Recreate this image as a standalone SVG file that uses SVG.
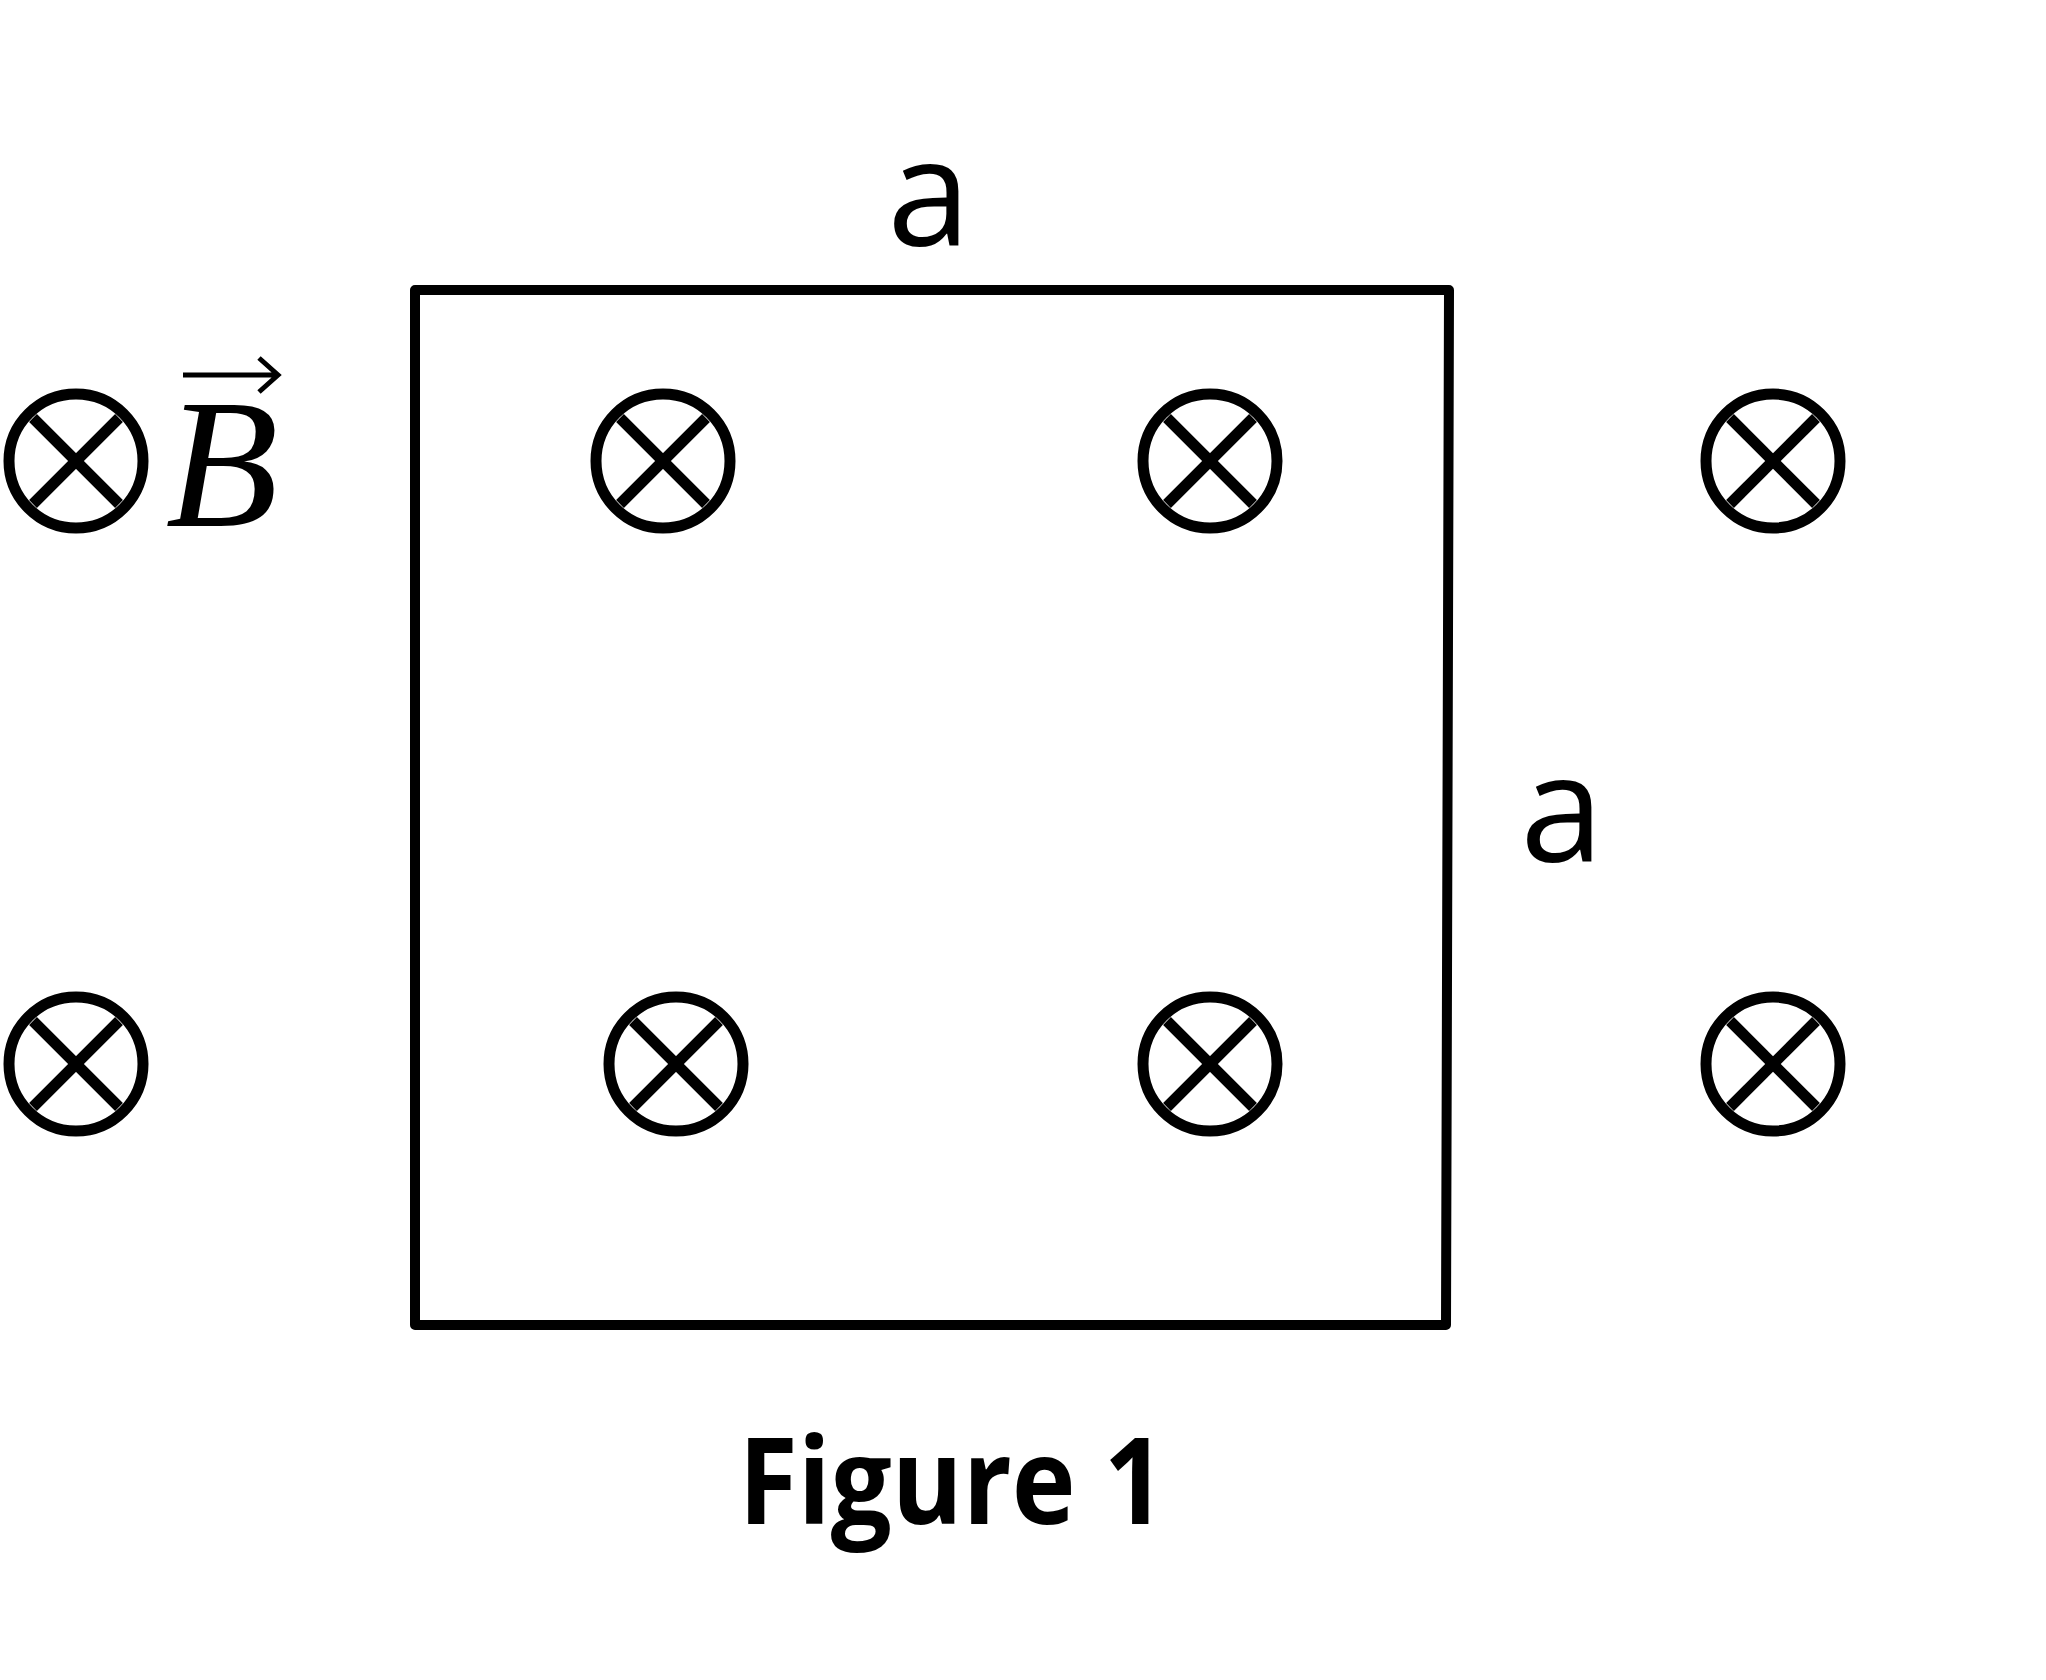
<svg xmlns="http://www.w3.org/2000/svg" width="2046" height="1680" viewBox="0 0 2046 1680">
<defs>
<style>
.c{fill:none;stroke:#000;stroke-width:11}
.t{font-family:"Open Sans","Liberation Sans",sans-serif;fill:#000}
</style>
<g id="sym"><circle class="c" cx="0" cy="0" r="67"/><line class="c" x1="-43" y1="-43" x2="43" y2="43"/><line class="c" x1="43" y1="-43" x2="-43" y2="43"/></g>
</defs>
<rect width="2046" height="1680" fill="#fff"/>
<g id="loop"><path d="M415 290 H1449 L1446 1325 H415 Z" fill="none" stroke="#000" stroke-width="10" stroke-linejoin="round"/></g>
<g id="fields">
<use href="#sym" x="76" y="461"/><use href="#sym" x="663" y="461"/><use href="#sym" x="1210" y="461"/><use href="#sym" x="1773" y="461"/>
<use href="#sym" x="76" y="1064"/><use href="#sym" x="676" y="1064"/><use href="#sym" x="1210" y="1064"/><use href="#sym" x="1773" y="1064"/>
</g>
<g id="labels">
<text class="t" x="929" y="246" font-size="150" text-anchor="middle">a</text>
<text class="t" x="1562" y="862" font-size="150" text-anchor="middle">a</text>
<text x="222" y="526" font-family="Liberation Serif,serif" font-style="italic" font-size="185" text-anchor="middle">B</text>
<path d="M183 375 H277 M259 358 L278 375 L259 392" fill="none" stroke="#000" stroke-width="5"/>
<text class="t" x="952" y="1524" font-size="120" font-weight="bold" text-anchor="middle" textLength="427" lengthAdjust="spacingAndGlyphs">Figure 1</text>
</g>
</svg>
